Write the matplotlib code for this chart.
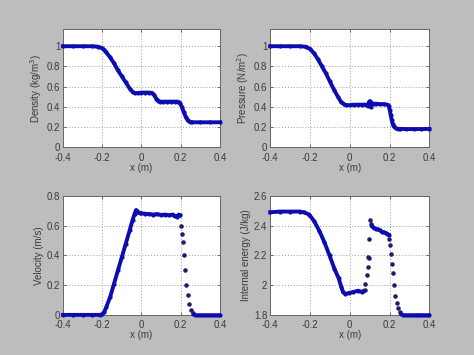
import matplotlib
matplotlib.use("Agg")
import matplotlib.pyplot as plt

plt.rcParams['font.family'] = ['Liberation Sans', 'DejaVu Sans']

# ---------------- data ----------------
dens_x = [-0.40, -0.35, -0.30, -0.25, -0.22, -0.20, -0.19, -0.18, -0.16, -0.14, -0.12, -0.10,
          -0.08, -0.06, -0.045, -0.035, -0.02, 0.00, 0.02, 0.04, 0.055, 0.065, 0.075, 0.085,
          0.095, 0.11, 0.13, 0.15, 0.17, 0.185, 0.195, 0.205, 0.215, 0.225, 0.235, 0.245,
          0.26, 0.30, 0.35, 0.40]
dens_y = [1.00, 1.00, 1.00, 1.00, 0.995, 0.98, 0.965, 0.94, 0.89, 0.83, 0.76, 0.70,
          0.64, 0.58, 0.545, 0.535, 0.535, 0.54, 0.54, 0.54, 0.535, 0.515, 0.48, 0.46,
          0.45, 0.45, 0.45, 0.45, 0.45, 0.45, 0.44, 0.40, 0.35, 0.30, 0.265, 0.25,
          0.245, 0.245, 0.245, 0.245]

pres_x = [-0.40, -0.35, -0.30, -0.25, -0.22, -0.20, -0.18, -0.16, -0.14, -0.12, -0.10, -0.08,
          -0.06, -0.045, -0.03, -0.02, 0.00, 0.02, 0.04, 0.06, 0.08, 0.09, 0.095, 0.10,
          0.105, 0.11, 0.12, 0.13, 0.15, 0.17, 0.19, 0.195, 0.20, 0.205, 0.21, 0.215,
          0.22, 0.23, 0.24, 0.25, 0.28, 0.32, 0.36, 0.40]
pres_y = [1.00, 1.00, 1.00, 1.00, 0.995, 0.975, 0.93, 0.87, 0.80, 0.73, 0.65, 0.57,
          0.50, 0.45, 0.425, 0.415, 0.415, 0.42, 0.42, 0.42, 0.42, 0.41, 0.44, 0.455,
          0.40, 0.435, 0.425, 0.43, 0.425, 0.425, 0.42, 0.41, 0.37, 0.32, 0.27, 0.23,
          0.205, 0.185, 0.18, 0.18, 0.178, 0.178, 0.178, 0.18]

vel_x = [-0.40, -0.35, -0.30, -0.25, -0.21, -0.20, -0.19, -0.18, -0.16, -0.14, -0.12, -0.10,
         -0.08, -0.06, -0.045, -0.035, -0.028, -0.02, -0.01, 0.00, 0.02, 0.04, 0.06, 0.08,
         0.10, 0.12, 0.14, 0.16, 0.17, 0.18, 0.19, 0.197]
vel_y = [0.0, 0.0, 0.0, 0.0, 0.0, 0.005, 0.02, 0.05, 0.12, 0.21, 0.30, 0.39,
         0.48, 0.57, 0.64, 0.68, 0.705, 0.695, 0.685, 0.683, 0.68, 0.678, 0.675, 0.678,
         0.672, 0.675, 0.67, 0.675, 0.665, 0.66, 0.675, 0.67]
vel_shock_x = [0.202, 0.207, 0.210, 0.217, 0.222, 0.229, 0.237, 0.244, 0.253, 0.261]
vel_shock_y = [0.60, 0.544, 0.489, 0.40, 0.30, 0.20, 0.133, 0.071, 0.033, 0.011]
vel_right_x = [0.265, 0.275, 0.285, 0.295, 0.305, 0.315, 0.325, 0.335, 0.345, 0.355,
               0.365, 0.375, 0.385, 0.395, 0.40]
vel_right_y = [0.003, 0.0, 0.0, 0.0, 0.0, 0.0, 0.0, 0.0, 0.0, 0.0,
               0.0, 0.0, 0.0, 0.0, 0.0]

ener_x = [-0.40, -0.35, -0.30, -0.25, -0.23, -0.204, -0.179, -0.153, -0.128, -0.102, -0.077,
          -0.056, -0.043, -0.034, -0.022, -0.005, 0.017, 0.043, 0.06, 0.068]
ener_y = [2.49, 2.495, 2.495, 2.495, 2.49, 2.475, 2.43, 2.365, 2.29, 2.20, 2.11,
          2.046, 1.99, 1.954, 1.94, 1.947, 1.954, 1.963, 1.954, 1.96]
ener_contact_x = [0.074, 0.077, 0.085, 0.089, 0.092, 0.097, 0.095, 0.102, 0.108]
ener_contact_y = [1.97, 2.01, 2.07, 2.12, 2.19, 2.18, 2.31, 2.437, 2.41]
ener_mid_x = [0.112, 0.12, 0.13, 0.14, 0.15, 0.16, 0.17, 0.18, 0.188, 0.195]
ener_mid_y = [2.395, 2.385, 2.38, 2.375, 2.37, 2.36, 2.355, 2.35, 2.345, 2.34]
ener_shock_x = [0.199, 0.203, 0.207, 0.211, 0.216, 0.222, 0.229, 0.236, 0.243, 0.25]
ener_shock_y = [2.31, 2.27, 2.21, 2.14, 2.08, 2.00, 1.93, 1.88, 1.845, 1.82]
ener_right_x = [0.255, 0.265, 0.275, 0.285, 0.295, 0.305, 0.315, 0.325, 0.335, 0.345,
                0.355, 0.365, 0.375, 0.385, 0.395, 0.40]
ener_right_y = [1.805, 1.80, 1.80, 1.80, 1.80, 1.80, 1.80, 1.80, 1.80, 1.80,
                1.80, 1.80, 1.80, 1.80, 1.80, 1.80]

x_ticks = [-0.4, -0.2, 0, 0.2, 0.4]
x_ticklabels = ['-0.4', '-0.2', '0', '0.2', '0.4']
ylabels = ['Density (kg/m$^3$)', 'Pressure (N/m$^2$)', 'Velocity (m/s)', 'Internal energy (J/kg)']
xlabel = 'x (m)'

# ---------------- styling ----------------
BG = '#bdbdbd'
LINE = '#0c0cb0'
DOT = '#1c1c70'
TXT = '#3a3a3a'

fig = plt.figure(figsize=(4.74, 3.55), dpi=100, facecolor=BG)

pos = [
    [0.133, 0.586, 0.331, 0.332],
    [0.570, 0.586, 0.336, 0.332],
    [0.133, 0.113, 0.331, 0.335],
    [0.570, 0.113, 0.336, 0.335],
]
axes = [fig.add_axes(p) for p in pos]


def style(ax, ylim, yticks, yticklabels, ylab):
    ax.set_facecolor('white')
    ax.set_xlim(-0.4, 0.4)
    ax.set_ylim(*ylim)
    ax.set_xticks(x_ticks)
    ax.set_xticklabels(x_ticklabels)
    ax.set_yticks(yticks)
    ax.set_yticklabels(yticklabels)
    ax.grid(True, linestyle=(0, (1, 2)), color='#9a9a9a', linewidth=0.7)
    ax.tick_params(direction='in', length=2.5, width=0.6, labelsize=7,
                   colors='#555555', labelcolor=TXT, top=True, right=True)
    ax.tick_params(axis='x', pad=4)
    ax.tick_params(axis='y', pad=2)
    for s in ax.spines.values():
        s.set_color('#666666')
        s.set_linewidth(0.7)
    ax.set_xlabel(xlabel, fontsize=7, color=TXT, labelpad=0)
    ax.set_ylabel(ylab, fontsize=7, color=TXT, labelpad=2)


def dense(ax, x, y):
    ax.plot(x, y, '-', color=LINE, linewidth=2.8, marker='.', markersize=4,
            solid_joinstyle='round', clip_on=False, zorder=3)


def dots(ax, x, y):
    ax.plot(x, y, linestyle='none', marker='.', color=DOT, markersize=4.5,
            clip_on=False, zorder=3)


ax = axes[0]
style(ax, (0, 1.17), [0, 0.2, 0.4, 0.6, 0.8, 1.0], ['0', '0.2', '0.4', '0.6', '0.8', '1'], ylabels[0])
dense(ax, dens_x, dens_y)

ax = axes[1]
style(ax, (0, 1.17), [0, 0.2, 0.4, 0.6, 0.8, 1.0], ['0', '0.2', '0.4', '0.6', '0.8', '1'], ylabels[1])
dense(ax, pres_x, pres_y)

ax = axes[2]
style(ax, (0, 0.8), [0, 0.2, 0.4, 0.6, 0.8], ['0', '0.2', '0.4', '0.6', '0.8'], ylabels[2])
dense(ax, vel_x, vel_y)
dots(ax, vel_shock_x, vel_shock_y)
ax.plot(vel_right_x, vel_right_y, '-', color=LINE, linewidth=2.0, marker='.', markersize=4,
        clip_on=False, zorder=3)

ax = axes[3]
style(ax, (1.8, 2.6), [1.8, 2.0, 2.2, 2.4, 2.6], ['1.8', '2', '2.2', '2.4', '2.6'], ylabels[3])
dense(ax, ener_x, ener_y)
dots(ax, ener_contact_x, ener_contact_y)
dense(ax, ener_mid_x, ener_mid_y)
dots(ax, ener_shock_x, ener_shock_y)
ax.plot(ener_right_x, ener_right_y, '-', color=LINE, linewidth=2.0, marker='.', markersize=4,
        clip_on=False, zorder=3)

fig.savefig('out.png', dpi=100, facecolor=BG)
